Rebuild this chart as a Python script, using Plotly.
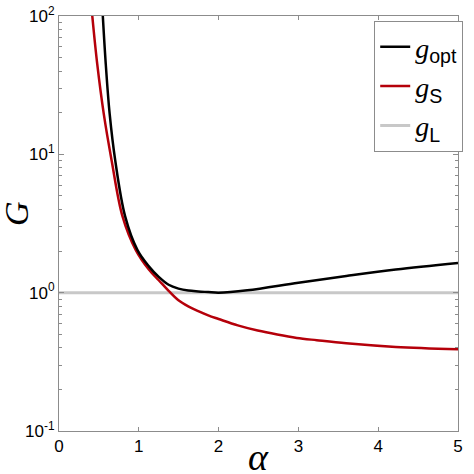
import plotly.graph_objects as go

# values
alpha_opt = [0.549, 0.586, 0.635, 0.705, 0.829, 0.982, 1.126, 1.25, 1.374, 1.497, 1.62,
             1.745, 1.87, 2.0, 2.36, 3.0, 3.6, 4.22, 5.0]
g_opt = [100, 45, 19.6, 9.0, 3.56, 2.04, 1.55, 1.3, 1.14, 1.07, 1.035,
         1.02, 1.01, 1.0, 1.04, 1.18, 1.32, 1.47, 1.64]

alpha_s = [0.417, 0.479, 0.561, 0.66, 0.796, 0.961, 1.126, 1.25, 1.374, 1.497, 1.62,
           1.745, 1.87, 2.0, 2.24, 2.49, 2.735, 2.98, 3.23, 3.6, 4.22, 5.0]
g_s = [100, 45, 19.6, 9.0, 3.56, 2.04, 1.47, 1.23, 1.03, 0.88, 0.795,
       0.735, 0.685, 0.645, 0.58, 0.532, 0.498, 0.471, 0.453, 0.43, 0.405, 0.39]

alpha_l = [0, 5]
g_l = [1, 1]

x_ticks = [0, 1, 2, 3, 4, 5]
y_ticks = [0.1, 1, 10, 100]
y_labels = ["10<sup>-1</sup>", "10<sup>0</sup>", "10<sup>1</sup>", "10<sup>2</sup>"]
y_minor = [m * d for d in (0.1, 1, 10) for m in range(2, 10)]

AX = "#8c8c8c"
SANS = "Liberation Sans"
SERIF = "Liberation Serif"


def leg(sub):
    return ("<i>g</i><span style='font-family:Liberation Sans;font-style:normal;font-size:28px'>"
            "<sub>" + sub + "</sub></span>")


fig = go.Figure()
fig.add_trace(go.Scatter(x=alpha_l, y=g_l, mode="lines", line=dict(color="#c8c8c8", width=3),
                         name=leg("L")))
fig.add_trace(go.Scatter(x=alpha_s, y=g_s, mode="lines", line=dict(color="#b5000a", width=2.5, shape="spline"),
                         name=leg("S")))
fig.add_trace(go.Scatter(x=alpha_opt, y=g_opt, mode="lines", line=dict(color="black", width=2.5, shape="spline"),
                         name=leg("opt")))

fig.update_layout(
    width=474, height=474,
    margin=dict(l=59, r=11, t=16, b=43),
    plot_bgcolor="white", paper_bgcolor="white",
    font=dict(family=SANS, size=17, color="black"),
    legend=dict(x=0.79, y=0.988, xanchor="left", yanchor="top",
                bgcolor="white", bordercolor=AX, borderwidth=1,
                font=dict(family=SERIF, size=28), traceorder="reversed",
                itemwidth=30, tracegroupgap=0),
    xaxis=dict(range=[0, 5], tickvals=x_ticks, ticks="inside", ticklen=4,
               tickcolor=AX, showline=True, linecolor=AX, linewidth=1,
               mirror="ticks", showgrid=False, zeroline=False, automargin=False),
    yaxis=dict(type="log", range=[-1, 2], tickvals=y_ticks, ticktext=y_labels,
               ticks="inside", ticklen=5, tickcolor=AX, showline=True, linecolor=AX,
               linewidth=1, mirror="ticks", showgrid=False, zeroline=False, automargin=False,
               minor=dict(tickvals=y_minor, ticks="inside", ticklen=3, tickcolor=AX, showgrid=False)),
    annotations=[
        dict(text="<i>α</i>", x=0.5, y=-0.062, xref="paper", yref="paper",
             xanchor="center", yanchor="middle", showarrow=False,
             font=dict(family=SERIF, size=38)),
        dict(text="<i>G</i>", x=-0.108, y=0.525, xref="paper", yref="paper",
             xanchor="center", yanchor="middle", showarrow=False, textangle=-90,
             font=dict(family=SERIF, size=34)),
    ],
    showlegend=True,
)

fig.write_html("out.html", config={"displayModeBar": False},
               post_script="document.body.style.margin='0';")
